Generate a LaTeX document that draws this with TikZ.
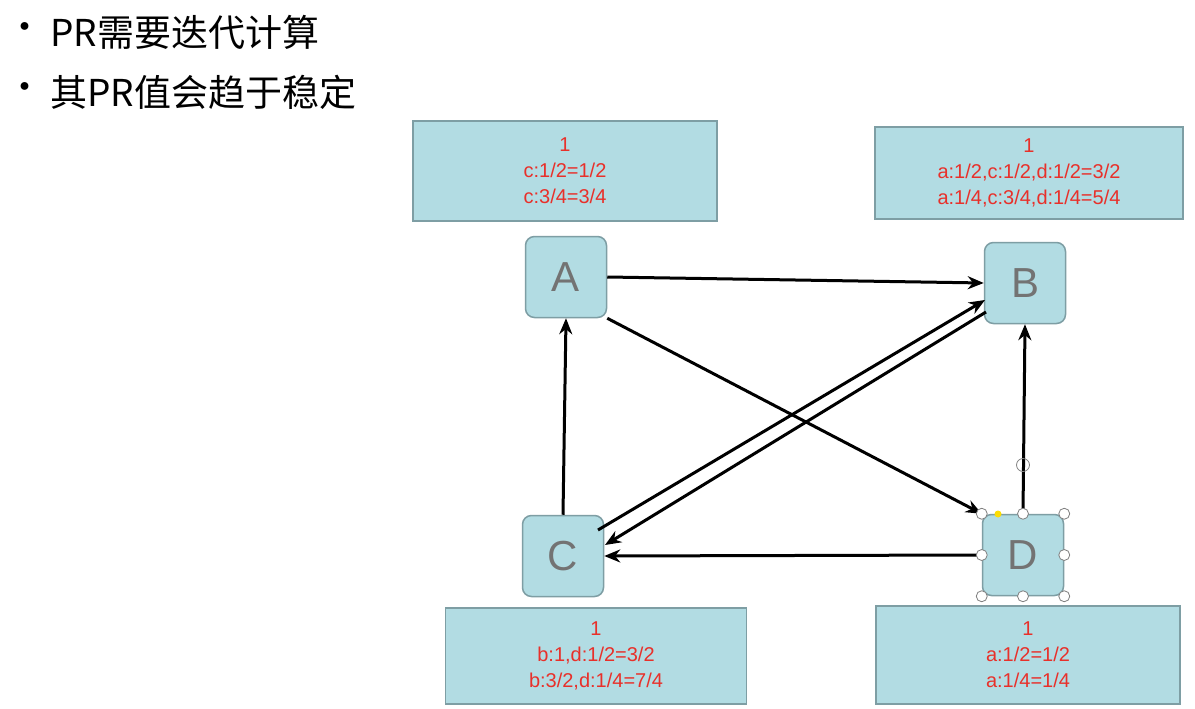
\documentclass[tikz,border=0pt]{standalone}
\usepackage{fontspec}
\setmainfont{Liberation Sans}
\newfontfamily\cjk{Noto Sans CJK SC}
\usetikzlibrary{arrows.meta}
\definecolor{boxfill}{HTML}{B2DCE3}
\definecolor{boxline}{HTML}{7E9EA4}
\definecolor{txtred}{HTML}{E8302A}
\tikzset{
 info/.style={draw=boxline,fill=boxfill,line width=1.5pt,minimum width=#1,minimum height=96pt,inner sep=0pt,text=txtred,font=\fontsize{20}{26}\selectfont,align=center},
 vert/.style={draw=boxline,fill=boxfill,line width=1.5pt,rounded corners=9pt,minimum size=81pt,inner sep=0pt,text=black!55,font=\fontsize{42}{42}\selectfont},
 edge/.style={line width=3pt,-{Stealth[length=16pt,width=13pt]}},
 handle/.style={circle,draw=black!50,fill=white,line width=0.8pt,inner sep=0pt,minimum size=11pt},
 bullet/.style={anchor=west,font=\cjk\fontsize{37}{37}\selectfont,inner sep=0pt}
}
\begin{document}
\begin{tikzpicture}[x=1pt,y=-1pt]
\useasboundingbox (0,0) rectangle (1195,709);
\fill[white] (0,0) rectangle (1195,709);
\node[bullet] (d1) at (6,32) {•};
\node[bullet] (l1) at (50,32) {PR需要迭代计算};
\node[bullet] (d2) at (6,92) {•};
\node[bullet] (l2) at (50,92) {其PR值会趋于稳定};
\node[info=304pt,minimum height=100pt] (ta) at (565,171) {1\\c:1/2=1/2\\c:3/4=3/4};
\node[info=308pt,minimum height=92pt] (tb) at (1029,173) {1\\a:1/2,c:1/2,d:1/2=3/2\\a:1/4,c:3/4,d:1/4=5/4};
\node[info=301pt] (tc) at (596,656) {1\\b:1,d:1/2=3/2\\b:3/2,d:1/4=7/4};
\node[info=304pt,minimum height=98pt] (td) at (1028,655) {1\\a:1/2=1/2\\a:1/4=1/4};
\node[vert] (A) at (566,277) {A};
\node[vert] (B) at (1025,283) {B};
\node[vert] (C) at (563,556) {C};
\node[vert] (D) at (1023,555) {D};
\coordinate (c1) at (598,530);
\coordinate (b1) at (985,300);
\coordinate (b2) at (986,312);
\coordinate (c2) at (605,545);
\draw[edge] (A.east) -- (B.west);
\draw[edge] (A.south east) -- (D.north west);
\draw[edge] (C.north) -- (A.south);
\draw[edge] (c1) -- (b1);
\draw[edge] (b2) -- (c2);
\draw[edge] (D.north) -- (B.south);
\draw[edge] (D.west) -- (C.east);
\foreach \p in {north west,north,north east,east,south east,south,south west,west}
  \node[handle] at (D.\p) {};
\node[circle,fill=yellow!80!orange,inner sep=0pt,minimum size=7pt] (hy) at (998,514) {};
\node[circle,draw=black!50,line width=0.8pt,inner sep=0pt,minimum size=13pt] (rot) at (1023,465) {};
\end{tikzpicture}
\end{document}
